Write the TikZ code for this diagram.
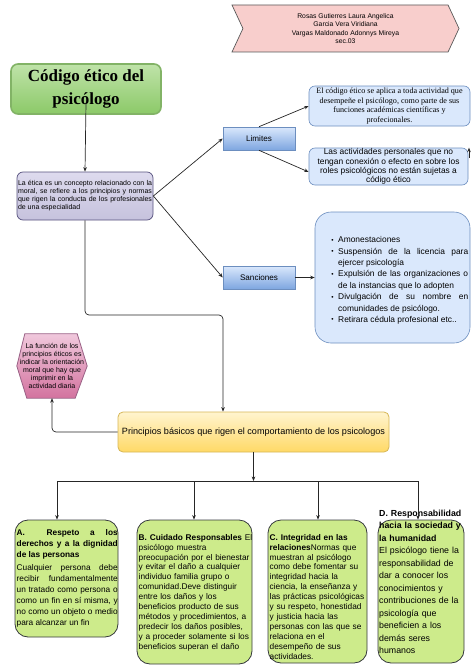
\documentclass[tikz,border=0pt]{standalone}
\usepackage{fontspec}
\setmainfont{Liberation Sans}
\newfontfamily\serifa{Liberation Serif}
\usetikzlibrary{arrows.meta,shapes.symbols,backgrounds}

\definecolor{titletop}{HTML}{BFE3A9}
\definecolor{titlebot}{HTML}{8CC968}
\definecolor{titleline}{HTML}{82B366}
\definecolor{eticatop}{HTML}{DEDBEE}
\definecolor{eticabot}{HTML}{C6C2DD}
\definecolor{eticaline}{HTML}{56517E}
\definecolor{bluetop}{HTML}{DAE8FC}
\definecolor{bluebot}{HTML}{7EA6E0}
\definecolor{blueline}{HTML}{6C8EBF}
\definecolor{notefill}{HTML}{DAE8FC}
\definecolor{pinkfill}{HTML}{F8CECC}
\definecolor{hextop}{HTML}{F0C8DC}
\definecolor{hexbot}{HTML}{D3739F}
\definecolor{hexline}{HTML}{996185}
\definecolor{yeltop}{HTML}{FFF4CF}
\definecolor{yelbot}{HTML}{FFD966}
\definecolor{yelline}{HTML}{D6B656}
\definecolor{greenfill}{HTML}{CDEB8B}
\definecolor{greenline}{HTML}{36393D}

\tikzset{
  conn/.style={draw=black!85, line width=0.7pt, -{Stealth[length=4.5pt,width=3.6pt]}},
  linea/.style={draw=black!85, line width=0.7pt},
  cinta/.style={signal, signal to=east, signal from=west, signal pointer angle=130,
    draw=black!65, fill=pinkfill, line width=0.7pt, minimum width=227, minimum height=47,
    inner sep=0pt, align=center, font=\fontsize{6.8}{8.3}\selectfont},
  titulo/.style={draw=titleline, line width=1.6pt, rounded corners=7pt, top color=titletop,
    bottom color=titlebot, minimum width=150, minimum height=50, align=center,
    font=\serifa\bfseries\fontsize{17}{23}\selectfont},
  etica/.style={draw=eticaline, line width=0.7pt, rounded corners=6pt, top color=eticatop,
    bottom color=eticabot, minimum width=136, minimum height=48, text width=134,
    inner xsep=1pt, align=justify, font=\fontsize{7}{8}\selectfont},
  azul/.style={draw=blueline, line width=0.6pt, top color=bluetop, bottom color=bluebot,
    minimum width=72, minimum height=23, inner sep=0pt, font=\fontsize{8.1}{9}\selectfont},
  nota/.style={draw=blueline, line width=0.6pt, fill=notefill, rounded corners=6pt,
    minimum width=161, inner sep=0pt, align=center},
  hexa/.style={draw=hexline, line width=0.8pt, top color=hextop, bottom color=hexbot},
  amarillo/.style={draw=yelline, line width=0.8pt, rounded corners=5pt, top color=yeltop,
    bottom color=yelbot, minimum width=271, minimum height=40, font=\fontsize{9.1}{11}\selectfont},
  verde/.style={draw=greenline, line width=0.8pt, fill=greenfill, rounded corners=13pt},
  vtexto/.style={anchor=north west, inner sep=0pt, align=left, font=\fontsize{8.3}{9.9}\selectfont},
}

\begin{document}
\begin{tikzpicture}[x=1pt,y=-1pt]
  \useasboundingbox (0,0) rectangle (474,669);

  \node[cinta] (autores) at (345.5,28.5) {Rosas Gutierres Laura Angelica\\Garcia Vera Viridiana\\Vargas Maldonado Adonnys Mireya\\sec.03};

  \node[titulo] (titulo) at (86,89) {Código ético del\\psicólogo};
  \node[etica] (etica) at (85,196) {La ética es un concepto relacionado con la \linebreak moral, se refiere a los principios y normas \linebreak que rigen la conducta de los profesionales \linebreak de una especialidad};

  \node[azul] (limites) at (259,138.5) {Limites};
  \node[azul] (sanciones) at (259,277.5) {Sanciones};

  \node[nota, minimum height=40, font=\serifa\fontsize{8.1}{9.4}\selectfont] (aplica) at (389.5,106) {El código ético se aplica a toda actividad que\\desempeñe el psicólogo, como parte de sus\\funciones académicas científicas y\\profecionales.};
  \node[nota, minimum width=159, minimum height=37, font=\fontsize{8.4}{9.3}\selectfont] (personal) at (388.5,166.5) {Las actividades personales que no\\tengan conexión o efecto en sobre los\\roles psicológicos no están sujetas a\\código ético};
  \node[nota, rounded corners=16pt, minimum width=155, minimum height=131] (listasan) at (392.5,277.5) {};
  \node[vtexto, text width=140, align=justify, font=\fontsize{8.4}{11.4}\selectfont] (sancionlista) at (328,231) {%
    \begin{list}{\raisebox{0.6pt}{\fontsize{6.5}{6.5}\selectfont\textbullet}}{\setlength{\leftmargin}{10pt}\setlength{\labelwidth}{4pt}\setlength{\labelsep}{4.5pt}\setlength{\itemsep}{0pt}\setlength{\parsep}{0pt}\setlength{\topsep}{0pt}\setlength{\partopsep}{0pt}}
    \item Amonestaciones
    \item Suspensión de la licencia para \linebreak ejercer psicología
    \item Expulsión de las organizaciones o \linebreak de la instancias que lo adopten
    \item Divulgación de su nombre en \linebreak comunidades de psicólogo.
    \item Retirara cédula profesional etc..
    \end{list}};

  \node[inner sep=0pt, minimum width=70, minimum height=64, align=center, font=\fontsize{7}{7.9}\selectfont] (funcion) at (52,366) {La función de los\\principios éticos es\\indicar la orientación\\moral que hay que\\imprimir en la\\actividad diaria};
  \begin{scope}[on background layer]
    \draw[hexa] (funcion.west) -- ([xshift=8pt]funcion.north west) -- ([xshift=-10pt]funcion.north east) -- (funcion.east) -- ([xshift=-12pt]funcion.south east) -- ([xshift=10pt]funcion.south west) -- cycle;
  \end{scope}

  \node[amarillo] (principios) at (253.5,432) {Principios básicos que rigen el comportamiento de los psicologos};

  % cuatro principios
  \node[verde, minimum width=103, minimum height=117] (respeto) at (66.5,578.5) {};
  \node[verde, minimum width=115, minimum height=144] (cuidado) at (194.5,592) {};
  \node[verde, minimum width=99, minimum height=143] (integridad) at (317.5,591.5) {};
  \node[verde, minimum width=86, minimum height=143] (sociedad) at (421,591.5) {};

  \node[vtexto, text width=101, align=justify, font=\fontsize{8.3}{11}\selectfont] (respetotxt) at (16.5,529) {\textbf{A.\ \ Respeto a los \linebreak derechos y a la dignidad \linebreak de las personas}\par\vspace{2pt}Cualquier persona debe \linebreak recibir fundamentalmente \linebreak un tratado como persona o \linebreak como un fin en sí misma, y \linebreak no como un objeto o medio \linebreak para alcanzar un fin};
  \node[vtexto, text width=114] (cuidadotxt) at (138.5,534) {\textbf{B. Cuidado Responsables} El\\psicólogo muestra\\preocupación por el bienestar\\y evitar el daño a cualquier\\individuo familia grupo o\\comunidad.Deve distinguir\\entre los daños y los\\beneficios producto de sus\\métodos y procedimientos, a\\predecir los daños posibles,\\y a proceder solamente si los\\beneficios superan el daño};
  \node[vtexto, text width=97] (integridadtxt) at (269.5,534) {\textbf{C. Integridad en las}\\\textbf{relaciones}Normas que\\muestran al psicólogo\\como debe fomentar su\\integridad hacia la\\ciencia, la enseñanza y\\las prácticas psicológicas\\y su respeto, honestidad\\y justicia hacia las\\personas con las que se\\relaciona en el\\desempeño de sus\\actividades.};
  \node[vtexto, text width=85, font=\fontsize{8.8}{12.5}\selectfont] (sociedadtxt) at (379,509.5) {\textbf{D. Responsabilidad}\\\textbf{hacia la sociedad y}\\\textbf{la humanidad}\\El psicólogo tiene la\\responsabilidad de\\dar a conocer los\\conocimientos y\\contribuciones de la\\psicología que\\beneficien a los\\demás seres\\humanos};

  % conectores
  \draw[conn] ([yshift=-14pt]titulo.center) -- (etica.north);
  \draw[conn] (etica.east) -- (limites.west);
  \draw[conn] (etica.east) -- (sanciones.west);
  \draw[conn] (limites.north) -- (aplica.west);
  \draw[conn] (limites.south) -- ([yshift=-5.5pt]personal.west);
  \coordinate (suelta) at (469,158);
  \draw[conn] (suelta) -- (suelta |- personal.north);
  \draw[conn] (sanciones.east) -- (listasan.west);

  \coordinate (codo) at (223,315);
  \draw[conn, rounded corners=4pt] (etica.south) |- (codo) -- (codo |- principios.north);
  \draw[conn, rounded corners=4pt] (principios.west) -| (funcion.south);

  \coordinate (ramaA) at (57,481);
  \coordinate (ramaB) at (194,481);
  \coordinate (ramaC) at (318,481);
  \coordinate (ramaD) at (418,481);
  \draw[conn] (principios.south) -- (principios.south |- ramaA);
  \draw[linea] (ramaA) -- (ramaD);
  \draw[conn] (ramaA) -- (ramaA |- respeto.north);
  \draw[conn] (ramaB) -- (ramaB |- cuidado.north);
  \draw[conn] (ramaC) -- (ramaC |- integridad.north);
  \draw[conn] (ramaD) -- (ramaD |- sociedad.north);
\end{tikzpicture}
\end{document}
